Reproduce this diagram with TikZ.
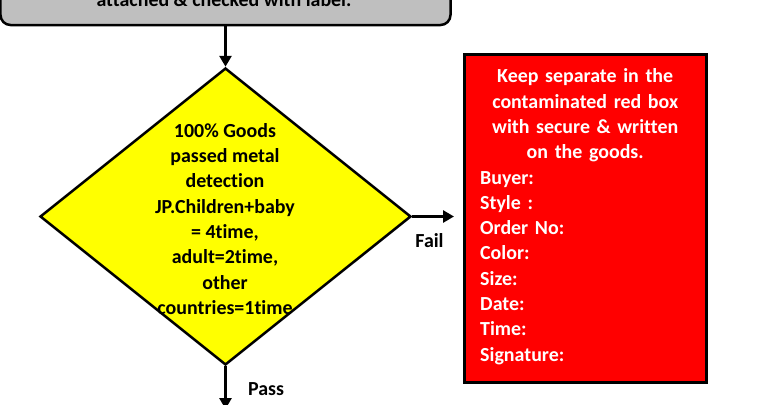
\documentclass[tikz,border=0pt]{standalone}
\usepackage{fontspec}
\setmainfont{Carlito}[Ligatures=NoCommon]
\usetikzlibrary{shapes.geometric,arrows.meta}
\definecolor{gbox}{HTML}{BFBFBF}
\definecolor{ybox}{HTML}{FFFF00}
\definecolor{rbox}{HTML}{FF0000}
\tikzset{
  flow/.style={line width=3bp, -{Triangle[length=11bp,width=12bp]}},
  lbl/.style={font=\fontsize{20}{25.4}\selectfont\bfseries, inner sep=0pt},
  boxline/.style={draw=black, line width=2.5bp},
}
\begin{document}
\begin{tikzpicture}[x=1bp,y=-1bp]
\useasboundingbox (0,0) rectangle (770,404);
\clip (0,0) rectangle (770,404);
% previous step box (cut off at top)
\node[boxline, fill=gbox, rounded corners=10bp, minimum width=450bp, minimum height=74bp, inner sep=0pt] (prev) at (225.5,-12) {};
\node[lbl, anchor=base] (prevtext) at (224,6) {attached \& checked with label.};
% decision diamond
\node[boxline, diamond, fill=ybox, minimum width=371bp, minimum height=297bp, inner sep=0pt] (dec) at (225.5,216.5) {};
\node[lbl, align=center, text=black] (dectext) at (225,219) {100\% Goods\\passed metal\\detection\\JP.Children+baby\\= 4time,\\adult=2time,\\other\\countries=1time};
% fail box
\node[draw=black, line width=3bp, fill=rbox, minimum width=242bp, minimum height=328bp, inner sep=0pt] (failbox) at (585,218.5) {};
\node[lbl, text=white, text width=210bp, anchor=north west] (failtext) at (480,68.6) {{\centering Keep separate in the\\contaminated red box\\with secure \& written\\on the goods.\par}\raggedright Buyer:\\Style :\\Order No:\\Color:\\Size:\\Date:\\Time:\\Signature:};
% connectors
\coordinate (passend) at (225.5,409);
\coordinate (failend) at (454,216.5);
\draw[flow] (prev.south) -- (dec.north);
\draw[flow] (dec.south) -- (passend);
\draw[flow] (dec.east) -- (failend);
\node[lbl, anchor=base] (fail) at (429.5,247) {Fail};
\node[lbl, anchor=base] (pass) at (266,395) {Pass};
\end{tikzpicture}
\end{document}
